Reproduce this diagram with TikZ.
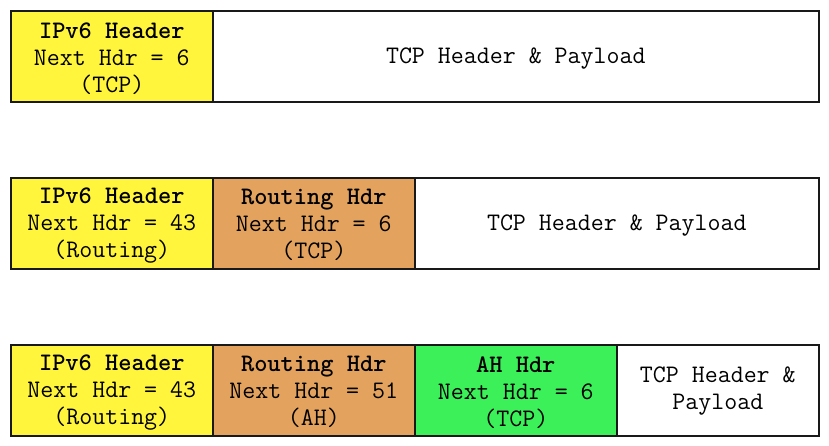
\documentclass[tikz,border=0pt]{standalone}
\definecolor{ipy}{RGB}{255,245,60}
\definecolor{rto}{RGB}{227,163,94}
\definecolor{ahg}{RGB}{60,240,90}
\begin{document}
\begin{tikzpicture}[x=1pt,y=-1pt,
  cell/.style={draw=black!90, line width=1.6pt, minimum height=91pt, inner sep=0pt,
    anchor=north west},
  one/.style={cell, minimum width=202pt},
  two/.style={cell, minimum width=404pt},
  three/.style={cell, minimum width=606pt},
  txt/.style={inner sep=0pt, align=center, font=\ttfamily\fontsize{25.2}{27}\selectfont}]
\useasboundingbox (0,0) rectangle (829,445);
% row 1
\node[one, fill=ipy] (a1) at (10,10) {};
\node[three, fill=white] (a2) at (212,10) {};
\node[txt] (ta1) at ([yshift=-2pt]a1.center) {\textbf{IPv6 Header}\\Next Hdr = 6\\(TCP)};
\node[txt] (ta2) at ([yshift=-2pt]a2.center) {TCP Header \& Payload};
% row 2
\node[one, fill=ipy] (b1) at (10,177) {};
\node[one, fill=rto] (b2) at (212,177) {};
\node[two, fill=white] (b3) at (414,177) {};
\node[txt] (tb1) at ([yshift=-2pt]b1.center) {\textbf{IPv6 Header}\\Next Hdr = 43\\(Routing)};
\node[txt] (tb2) at ([yshift=-2pt]b2.center) {\textbf{Routing Hdr}\\Next Hdr = 6\\(TCP)};
\node[txt] (tb3) at ([yshift=-2pt]b3.center) {TCP Header \& Payload};
% row 3
\node[one, fill=ipy] (c1) at (10,344) {};
\node[one, fill=rto] (c2) at (212,344) {};
\node[one, fill=ahg] (c3) at (414,344) {};
\node[one, fill=white] (c4) at (616,344) {};
\node[txt] (tc1) at ([yshift=-2pt]c1.center) {\textbf{IPv6 Header}\\Next Hdr = 43\\(Routing)};
\node[txt] (tc2) at ([yshift=-2pt]c2.center) {\textbf{Routing Hdr}\\Next Hdr = 51\\(AH)};
\node[txt] (tc3) at ([yshift=-2pt]c3.center) {\textbf{AH Hdr}\\Next Hdr = 6\\(TCP)};
\node[txt] (tc4) at ([yshift=-1pt]c4.center) {TCP Header \&\\Payload};
\end{tikzpicture}
\end{document}
